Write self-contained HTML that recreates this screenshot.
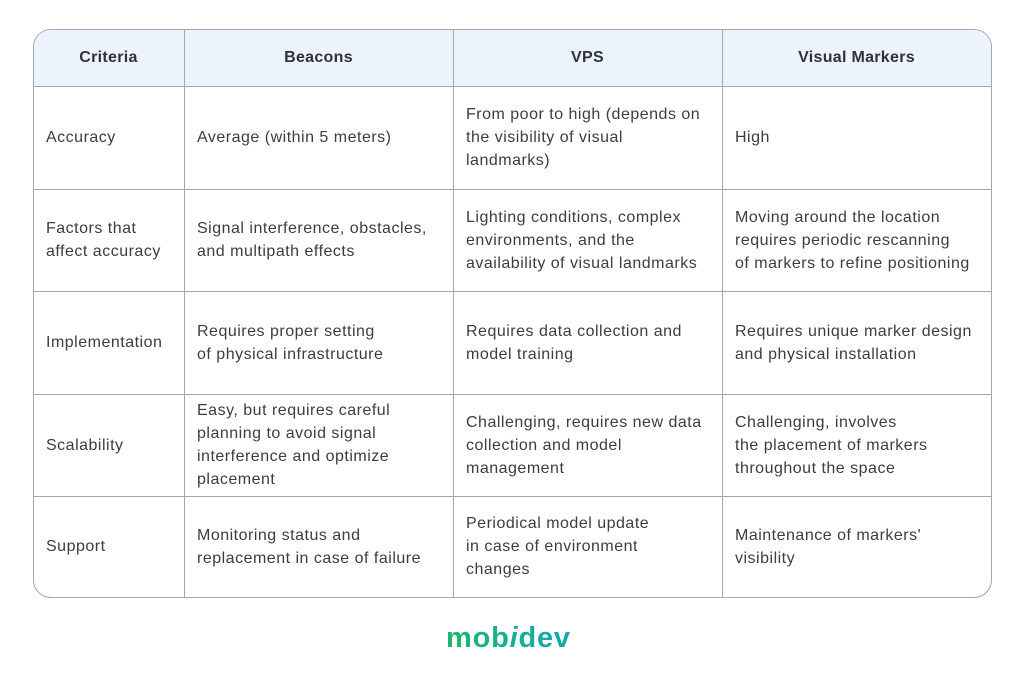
<!DOCTYPE html>
<html><head><meta charset="utf-8"><style>
*{margin:0;padding:0;box-sizing:border-box}
body{width:1024px;height:683px;background:#fff;font-family:"Liberation Sans",sans-serif;position:relative;overflow:hidden}
.t{position:absolute;left:33px;top:29px;width:959px;height:569px;border:1px solid #a3a7ae;border-radius:18px;overflow:hidden}
.h{position:absolute;left:0;top:0;width:100%;height:57px;background:#edf3fc;border-bottom:1px solid #a3a7ae}
.v{position:absolute;top:0;bottom:0;width:1px;background:#a3a7ae}
.r{position:absolute;left:0;width:100%;height:1px;background:#a3a7ae}
.c{position:absolute;display:flex;align-items:center;color:#3a3d42;font-size:16px;letter-spacing:0.5px;line-height:23px;padding-left:12px;white-space:nowrap}
.hd{justify-content:center;font-weight:bold;color:#2f3237;padding:0;letter-spacing:0.3px}
.logo{position:absolute;left:446px;top:622px;font-size:29px;font-weight:bold;letter-spacing:0.8px;background:linear-gradient(90deg,#1cb76d,#12a9b3);-webkit-background-clip:text;color:transparent}
</style></head><body>
<div class="t">
<div class="h"></div>
<div class="v" style="left:150px"></div>
<div class="v" style="left:419px"></div>
<div class="v" style="left:688px"></div>
<div class="r" style="top:159px"></div>
<div class="r" style="top:261px"></div>
<div class="r" style="top:364px"></div>
<div class="r" style="top:466px"></div>
</div>
<div class="c hd" style="left:33px;top:29px;width:151px;height:57px">Criteria</div>
<div class="c hd" style="left:184px;top:29px;width:269px;height:57px">Beacons</div>
<div class="c hd" style="left:453px;top:29px;width:269px;height:57px">VPS</div>
<div class="c hd" style="left:722px;top:29px;width:269px;height:57px">Visual Markers</div>

<div class="c" style="left:34px;top:86px;width:150px;height:103px">Accuracy</div>
<div class="c" style="left:185px;top:86px;width:268px;height:103px">Average (within 5 meters)</div>
<div class="c" style="left:454px;top:86px;width:268px;height:103px">From poor to high (depends on<br>the visibility of visual<br>landmarks)</div>
<div class="c" style="left:723px;top:86px;width:268px;height:103px">High</div>

<div class="c" style="left:34px;top:189px;width:150px;height:102px">Factors that<br>affect accuracy</div>
<div class="c" style="left:185px;top:189px;width:268px;height:102px">Signal interference, obstacles,<br>and multipath effects</div>
<div class="c" style="left:454px;top:189px;width:268px;height:102px">Lighting conditions, complex<br>environments, and the<br>availability of visual landmarks</div>
<div class="c" style="left:723px;top:189px;width:268px;height:102px">Moving around the location<br>requires periodic rescanning<br>of markers to refine positioning</div>

<div class="c" style="left:34px;top:291px;width:150px;height:103px">Implementation</div>
<div class="c" style="left:185px;top:291px;width:268px;height:103px">Requires proper setting<br>of physical infrastructure</div>
<div class="c" style="left:454px;top:291px;width:268px;height:103px">Requires data collection and<br>model training</div>
<div class="c" style="left:723px;top:291px;width:268px;height:103px">Requires unique marker design<br>and physical installation</div>

<div class="c" style="left:34px;top:394px;width:150px;height:102px">Scalability</div>
<div class="c" style="left:185px;top:394px;width:268px;height:102px">Easy, but requires careful<br>planning to avoid signal<br>interference and optimize<br>placement</div>
<div class="c" style="left:454px;top:394px;width:268px;height:102px">Challenging, requires new data<br>collection and model<br>management</div>
<div class="c" style="left:723px;top:394px;width:268px;height:102px">Challenging, involves<br>the placement of markers<br>throughout the space</div>

<div class="c" style="left:34px;top:496px;width:150px;height:101px">Support</div>
<div class="c" style="left:185px;top:496px;width:268px;height:101px">Monitoring status and<br>replacement in case of failure</div>
<div class="c" style="left:454px;top:496px;width:268px;height:101px">Periodical model update<br>in case of environment<br>changes</div>
<div class="c" style="left:723px;top:496px;width:268px;height:101px">Maintenance of markers'<br>visibility</div>

<div class="logo">mob<i>i</i>dev</div>
</body></html>
